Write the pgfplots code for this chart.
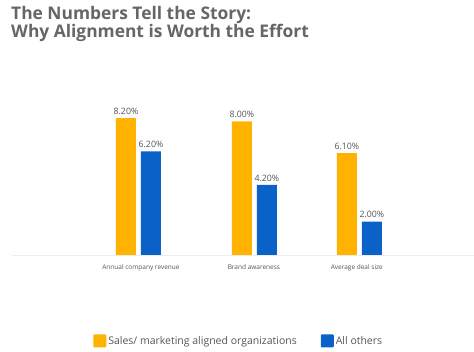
\documentclass[border=0pt]{standalone}
\usepackage{pgfplots}
\pgfplotsset{compat=1.18}
\usepackage{fontspec}
\setmainfont{Open Sans}
\definecolor{ylw}{HTML}{FFB300}
\definecolor{blu}{HTML}{0A62C9}
\definecolor{ttl}{HTML}{666666}
\definecolor{lbl}{HTML}{555555}
\begin{document}
\begin{tikzpicture}[x=1pt,y=1pt]
\fill[white] (0,0) rectangle (474,352);
\node[anchor=north west, align=left, font=\fontsize{17.4}{18.5}\selectfont\bfseries, text=ttl, inner sep=0pt] at (11,346) {The Numbers Tell the Story:\\Why Alignment is Worth the Effort};
\begin{axis}[
  at={(12pt,97pt)}, anchor=origin,
  width=462pt, height=167pt, scale only axis,
  xmin=12, xmax=474, ymin=0, ymax=10,
  axis x line=bottom, axis y line=none,
  axis line style={draw=gray!15, -},
  xtick={141,254,357},
  xticklabels={Annual company revenue, Brand awareness, Average deal size},
  major tick length=0pt,
  ytick=\empty,
  /pgf/number format/assume math mode=true,
  xticklabel style={font=\fontsize{6.5}{7.5}\selectfont, text=lbl, yshift=-6pt},
  nodes near coords={\pgfmathprintnumber[fixed,fixed zerofill,precision=2]{\pgfplotspointmeta}\%},
  every node near coord/.append style={font=\fontsize{8.8}{10}\selectfont, text=lbl, inner sep=3.2pt},
  legend columns=2,
  legend style={at={(0.491,-0.515)}, anchor=center, draw=none, fill=none,
    font=\fontsize{10.5}{12}\selectfont, text=lbl,
    /tikz/every even column/.append style={column sep=22pt}},
  legend image code/.code={\fill[#1, rounded corners=1pt] (0pt,-6.5pt) rectangle (13pt,6.5pt);},
]
\addplot[ybar, bar width=20pt, bar shift=0pt, fill=ylw, draw=none] coordinates {(126,8.2) (242,8.0) (347,6.1)};
\addlegendentry{Sales/ marketing aligned organizations}
\addplot[ybar, bar width=20pt, bar shift=0pt, fill=blu, draw=none] coordinates {(151,6.2) (267,4.2) (372,2.0)};
\addlegendentry{All others}
\end{axis}
\end{tikzpicture}
\end{document}
